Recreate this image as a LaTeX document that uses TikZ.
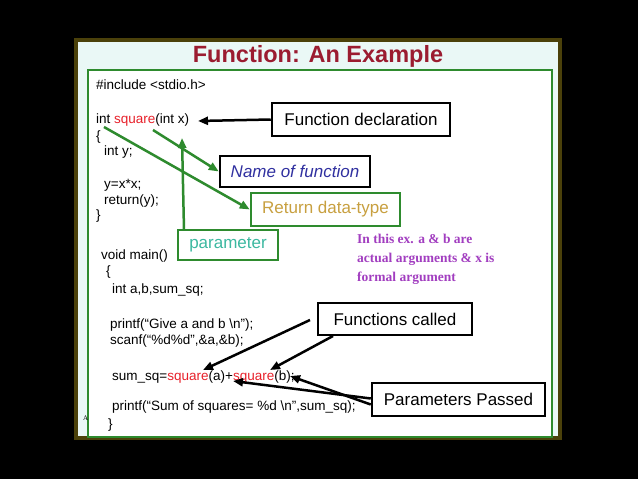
\documentclass[tikz,border=0pt]{standalone}
\usepackage{fontspec}
\setmainfont{Liberation Sans}
\newfontfamily\serfont{Liberation Serif}
\usetikzlibrary{arrows.meta}
\definecolor{slidebg}{HTML}{EAF8F6}
\definecolor{gbox}{HTML}{2E8B2E}
\definecolor{ttl}{HTML}{9B1C30}
\definecolor{sqred}{HTML}{E8202A}
\definecolor{purp}{HTML}{A23EC0}
\definecolor{tan}{HTML}{C8A040}
\definecolor{teal}{HTML}{3CB8A0}
\definecolor{blu}{HTML}{3030A0}
\begin{document}
\begin{tikzpicture}[x=1pt,y=-1pt,
  code/.style={anchor=west,inner sep=0pt,font=\fontsize{13.5}{15}\selectfont},
  lbl/.style={draw=black,line width=2.5pt,inner sep=0pt,font=\fontsize{17}{19}\selectfont},
  glbl/.style={lbl,draw=gbox},
  barr/.style={-{Triangle[length=10pt,width=8pt]},line width=2.5pt,black},
  garr/.style={-{Triangle[length=10pt,width=8pt]},line width=2.5pt,gbox}]
\fill[black] (0,0) rectangle (638,479);
\useasboundingbox (0,0) rectangle (638,479);
\draw[draw={rgb,255:red,150;green,130;blue,20},line width=4pt,opacity=0.5] (76,40) rectangle (560,438);
\fill[slidebg] (78,42) rectangle (558,436);
\fill[white,draw=gbox,line width=2.5pt] (88,70) rectangle (552,437);
\node[font=\bfseries\fontsize{23.5}{26}\selectfont,text=ttl] (title) at (318,56) {Function: An Example};
% code
\node[code] (inc) at (96,85) {\#include <stdio.h>};
\node[code] (decl) at (96,120) {int \textcolor{sqred}{square}(int x)};
\node[code] at (96,137) {\{};
\node[code] at (104,152) {int y;};
\node[code] at (104,185) {y=x*x;};
\node[code] at (104,201) {return(y);};
\node[code] at (96,216) {\}};
\node[code] at (101,256) {void main()};
\node[code] at (106,272) {\{};
\node[code] at (112,290) {int a,b,sum\_sq;};
\node[code] at (110,325) {printf(“Give a and b \textbackslash n”);};
\node[code] at (110,341) {scanf(“\%d\%d”,\&a,\&b);};
\node[code] (call) at (112,377) {sum\_sq=\textcolor{sqred}{square}(a)+\textcolor{sqred}{square}(b);};
\node[code] at (112,407) {printf(“Sum of squares= \%d \textbackslash n”,sum\_sq);};
\node[code] at (108,425) {\}};
\node[code,font=\serfont\fontsize{7}{8}\selectfont] at (83,418) {A};
% labels
\node[lbl,minimum width=178pt,minimum height=33pt] (fd) at (361,119.5) {Function declaration};
\node[lbl,minimum width=150pt,minimum height=31pt,text=blu,font=\itshape\fontsize{17}{19}\selectfont] (nf) at (295,171.5) {Name of function};
\node[glbl,minimum width=149pt,minimum height=33pt,text=tan] (rd) at (325.5,209.5) {Return data-type};
\node[glbl,minimum width=100pt,minimum height=30pt,text=teal] (pm) at (228,245) {parameter};
\node[anchor=north west,align=left,text=purp,inner sep=0pt,font=\serfont\bfseries\fontsize{13.5}{19}\selectfont] (note) at (357,234) {In this ex. a \& b are\\actual arguments \& x is\\formal argument};
\node[lbl,minimum width=154pt,minimum height=32pt] (fc) at (395,319) {Functions called};
\node[lbl,minimum width=173pt,minimum height=33pt] (pp) at (458.5,399.5) {Parameters Passed};
% arrows
\coordinate (a1) at (198,121);
\coordinate (g1) at (104,127);
\coordinate (g2) at (153,130);
\coordinate (g3) at (182,138);
\coordinate (c1) at (203,370);
\coordinate (c2) at (270,370);
\coordinate (p1) at (290,376);
\coordinate (p2) at (233,381);
\coordinate (pmtop) at (184,230);
\coordinate (fcl) at (310,320);
\coordinate (fcb) at (333,336);
\draw[barr] (fd.west) -- (a1);
\draw[garr] (g1) -- (rd.west);
\draw[garr] (g2) -- (nf.west);
\draw[garr] (pmtop) -- (g3);
\draw[barr] (fcl) -- (c1);
\draw[barr] (fcb) -- (c2);
\draw[barr] ([yshift=-5pt]pp.west) -- (p1);
\draw[barr] ([yshift=1pt]pp.west) -- (p2);
\end{tikzpicture}
\end{document}
